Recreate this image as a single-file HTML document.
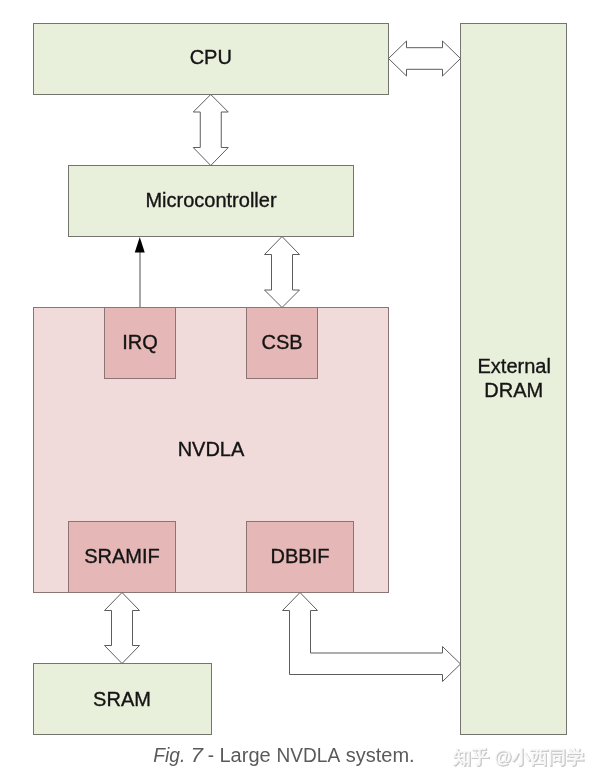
<!DOCTYPE html>
<html><head><meta charset="utf-8">
<style>
html,body{margin:0;padding:0;background:#fff;width:600px;height:781px;overflow:hidden}
svg{position:absolute;left:0;top:0;will-change:transform}
text{font-family:"Liberation Sans",sans-serif}
</style></head>
<body>
<svg width="600" height="781" viewBox="0 0 600 781">
<g stroke="#74756f" stroke-width="1" fill="#e8efdb">
<rect x="33.5" y="23.5" width="355" height="71"/>
<rect x="460.5" y="23.5" width="106" height="711"/>
<rect x="68.5" y="165.5" width="285" height="71"/>
<rect x="33.5" y="663.5" width="178" height="71"/>
</g>
<g stroke="#8c7474" stroke-width="1">
<rect x="33.5" y="307.5" width="355" height="285" fill="#f1dbda"/>
<rect x="104.5" y="307.5" width="71" height="71" fill="#e5b8b7"/>
<rect x="246.5" y="307.5" width="71" height="71" fill="#e5b8b7"/>
<rect x="68.5" y="521.5" width="107" height="71" fill="#e5b8b7"/>
<rect x="246.5" y="521.5" width="107" height="71" fill="#e5b8b7"/>
</g>
<g stroke="#5c5c5c" stroke-width="1" fill="#fff" stroke-linejoin="miter">
<!-- CPU <-> DRAM -->
<path d="M388.5 58.5 L406.5 41 L406.5 47.7 L442.5 47.7 L442.5 41 L460.5 58.5 L442.5 76 L442.5 69.3 L406.5 69.3 L406.5 76 Z"/>
<!-- CPU <-> Micro -->
<path d="M210.75 94.5 L228.25 112 L221.25 112 L221.25 147.5 L228.25 147.5 L210.75 165.5 L193.25 147.5 L200.25 147.5 L200.25 112 L193.25 112 Z"/>
<!-- Micro <-> CSB -->
<path d="M282 236.5 L299.5 254.5 L292.5 254.5 L292.5 290 L299.5 290 L282 307.5 L264.5 290 L271.5 290 L271.5 254.5 L264.5 254.5 Z"/>
<!-- SRAMIF <-> SRAM -->
<path d="M122 592.5 L139.5 610.5 L132.5 610.5 L132.5 645.5 L139.5 645.5 L122 663.5 L104.5 645.5 L111.5 645.5 L111.5 610.5 L104.5 610.5 Z"/>
<!-- DBBIF <-> DRAM -->
<path d="M300 592.5 L317.5 610.5 L310.5 610.5 L310.5 653 L442.5 653 L442.5 646.5 L460.5 664 L442.5 681.5 L442.5 674.5 L289.5 674.5 L289.5 610.5 L282.5 610.5 Z"/>
</g>
<line x1="140" y1="250" x2="140" y2="307" stroke="#a6a6a6" stroke-width="2"/>
<path d="M139.75 237 L144.75 252.5 L134.75 252.5 Z" fill="#000"/>
<g fill="#141414" stroke="#141414" stroke-width="0.35" font-size="20" text-anchor="middle">
<text x="210.75" y="64">CPU</text>
<text x="211" y="206.5">Microcontroller</text>
<text x="140" y="348.6">IRQ</text>
<text x="282" y="348.6">CSB</text>
<text x="211" y="456">NVDLA</text>
<text x="122" y="562.5">SRAMIF</text>
<text x="300" y="562.5">DBBIF</text>
<text x="122" y="705.6">SRAM</text>
<text x="514.2" y="373.2">External</text>
<text x="513.8" y="396.6">DRAM</text>
</g>
<g fill="#5a5a5c" font-size="20">
<text transform="translate(153.3 762) scale(0.96 1)" font-style="italic">Fig.</text>
<text transform="translate(190.5 762) scale(1.12 1)" font-style="italic">7</text>
<text transform="translate(207.8 762) scale(0.95 1)">-</text>
<text transform="translate(219.5 762)">Large</text>
<text transform="translate(276.5 762) scale(0.955 1)">NVDLA</text>
<text transform="translate(345.7 762)">system.</text>
</g>
<text x="454" y="763.5" font-size="18" font-weight="bold" fill="#c9c9c9" stroke="#c9c9c9" stroke-width="0.4">知乎 @小西同学</text>
<text x="453" y="762.5" font-size="18" font-weight="bold" fill="#f8f8f8">知乎 @小西同学</text>
</svg>
</body></html>
